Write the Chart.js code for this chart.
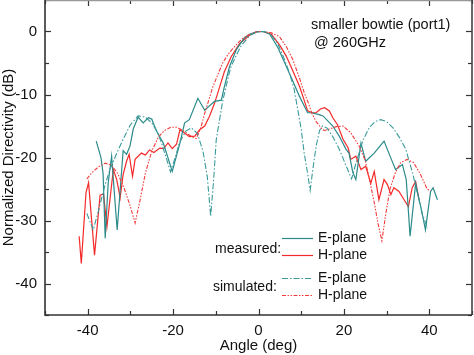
<!DOCTYPE html>
<html>
<head>
<meta charset="utf-8">
<script src="https://cdn.jsdelivr.net/npm/chart.js@4/dist/chart.umd.min.js"></script>
<style>
  html, body { margin: 0; padding: 0; background: #fff; }
  #c { display: block; }
</style>
</head>
<body>
<canvas id="c" width="474" height="355"></canvas>
<script>
// ---- data ----
const measEAngle = [-38.0,-36.9,-36.4,-35.9,-35.2,-34.4,-33.1,-31.7,-30.9,-30.1,-29.3,-28.2,-27.0,-25.8,-25.0,-23.9,-22.3,-20.2,-18.4,-17.3,-16.2,-14.2,-12.6,-11.5,-10.3,-8.7,-8.0,-6.8,-5.2,-3.3,-2.0,-0.5,1.0,2.6,4.5,6.5,8.0,9.6,11.5,12.4,14.2,15.1,17.4,18.9,20.5,21.2,22.1,22.8,24.0,25.1,27.1,29.4,31.0,32.1,33.7,34.6,35.5,36.8,37.6,38.0,39.1,40.3,40.9,41.9];
const measEdB    = [-17.4,-20.0,-22.5,-32.8,-24.0,-19.8,-31.5,-18.9,-19.5,-18.2,-15.4,-13.6,-14.5,-13.7,-13.9,-15.8,-17.7,-22.2,-17.7,-14.5,-14.0,-10.6,-12.5,-11.8,-11.1,-10.9,-8.8,-5.6,-2.9,-1.0,-0.4,-0.1,0.0,-0.4,-2.5,-5.5,-7.8,-10.3,-12.9,-12.9,-13.2,-13.4,-15.0,-16.6,-18.7,-19.3,-22.4,-23.5,-17.7,-20.6,-19.3,-17.4,-20.1,-21.9,-21.1,-23.5,-32.5,-24.1,-26.7,-27.8,-31.5,-25.4,-24.8,-26.7];

const measHAngle = [-42.0,-41.5,-40.4,-39.8,-38.4,-37.1,-36.3,-35.5,-34.0,-33.2,-32.4,-31.7,-30.9,-30.3,-29.5,-28.9,-28.2,-27.4,-26.5,-25.5,-24.5,-23.1,-22.2,-21.2,-20.2,-19.2,-18.4,-17.3,-16.2,-14.9,-13.8,-12.6,-11.5,-10.3,-9.1,-8.0,-6.4,-4.4,-2.1,-0.5,1.0,3.0,5.0,6.5,8.0,9.6,10.5,11.5,12.5,13.5,14.5,15.5,16.6,17.4,18.5,19.8,21.0,21.6,22.8,24.0,25.1,26.3,27.1,28.2,29.4,30.2,31.0,31.7,32.9,34.1,35.1,36.0,36.8,37.6];
const measHdB    = [-32.5,-36.8,-25.6,-24.0,-35.5,-26.0,-25.8,-31.0,-21.9,-23.5,-26.4,-22.7,-20.6,-19.5,-23.0,-20.3,-19.8,-19.3,-19.6,-18.8,-19.2,-18.5,-18.6,-17.7,-18.6,-17.9,-15.6,-16.1,-16.7,-16.6,-15.6,-15.0,-13.5,-11.4,-8.8,-6.4,-4.0,-1.9,-0.6,0.0,0.0,-0.4,-2.2,-3.9,-6.2,-8.7,-10.5,-12.6,-12.9,-12.9,-12.3,-12.1,-12.6,-13.7,-14.8,-17.1,-18.5,-20.3,-19.8,-21.9,-21.4,-24.1,-22.2,-26.7,-23.5,-24.3,-25.9,-24.8,-25.4,-26.7,-27.8,-24.8,-23.8,-26.7];

const simEAngle = [-40.2,-38.7,-37.5,-36.0,-34.8,-33.0,-31.7,-30.0,-28.2,-26.5,-25.0,-23.8,-22.7,-21.5,-20.6,-19.5,-18.5,-17.0,-15.7,-14.3,-13.0,-12.0,-11.2,-10.5,-9.9,-9.0,-8.4,-7.0,-6.4,-5.0,-4.0,-2.0,0.0,1.5,3.0,4.5,6.0,7.2,8.3,9.2,10.0,10.7,11.5,12.1,12.8,13.5,14.3,15.0,16.0,17.5,19.0,20.5,21.8,23.0,24.5,26.0,27.3,28.6,30.0,31.5,33.0,34.5,36.1,37.5,38.4,39.6];
const simEdB    = [-28.9,-31.5,-28.5,-24.5,-21.9,-19.0,-17.1,-14.8,-13.4,-13.6,-14.5,-15.8,-17.7,-20.3,-22.3,-20.0,-17.6,-15.8,-15.3,-16.2,-19.0,-23.0,-29.3,-23.5,-17.2,-13.5,-11.1,-7.0,-5.5,-3.5,-2.2,-0.6,0.0,0.0,-0.6,-1.9,-4.3,-6.5,-9.0,-12.4,-15.5,-19.3,-22.5,-25.2,-21.5,-18.2,-15.7,-15.0,-15.3,-16.8,-18.8,-21.3,-23.4,-20.5,-17.2,-15.2,-14.3,-14.0,-14.3,-15.3,-16.8,-18.7,-22.5,-26.5,-29.1,-31.2];

const simHAngle = [-40.2,-39.0,-37.5,-35.9,-34.5,-33.0,-31.5,-30.0,-28.9,-27.8,-26.5,-25.0,-23.5,-22.0,-20.5,-19.2,-18.0,-16.5,-15.3,-14.6,-13.6,-12.6,-11.6,-10.7,-9.5,-8.4,-7.2,-6.0,-4.8,-3.7,-2.5,-1.3,0.0,1.0,3.0,4.9,6.5,8.0,9.5,10.7,11.6,12.5,13.5,15.0,15.5,16.5,18.2,19.8,21.5,23.6,25.0,26.0,27.2,28.0,28.9,29.8,30.8,32.0,33.3,34.8,36.3,37.8,39.5,40.3];
const simHdB    = [-23.4,-22.4,-21.5,-20.9,-21.2,-22.5,-24.8,-27.8,-30.4,-27.0,-22.5,-19.0,-16.8,-15.7,-15.2,-15.2,-15.6,-16.3,-16.8,-17.0,-15.5,-13.0,-10.8,-8.8,-6.8,-5.0,-3.7,-2.7,-1.8,-1.1,-0.6,-0.3,0.0,0.0,-0.2,-0.8,-2.4,-4.4,-7.2,-9.7,-11.2,-13.0,-14.3,-15.6,-15.7,-15.5,-15.1,-15.0,-16.0,-18.2,-20.5,-23.5,-27.5,-30.5,-33.2,-29.0,-25.0,-22.5,-20.8,-20.3,-20.8,-22.5,-25.0,-25.3];

const xTickValues = [-40, -20, 0, 20, 40];
const yTickValues = [-40, -30, -20, -10, 0];
const xMinorValues = [-50, -40, -30, -20, -10, 0, 10, 20, 30, 40, 50];
const yMinorValues = [-45, -40, -35, -30, -25, -20, -15, -10, -5, 0, 5];

const seriesNames = ['measured E-plane', 'measured H-plane', 'simulated E-plane', 'simulated H-plane'];
const legendLabels = ['E-plane', 'H-plane', 'E-plane', 'H-plane'];
const groupLabels = ['measured:', 'simulated:'];
const noteLines = ['smaller bowtie (port1)', '@ 260GHz'];
const xTitle = 'Angle (deg)';
const yTitle = 'Normalized Directivity (dB)';

// ---- styling ----
const TEAL = '#2b8a8a';
const TEAL_SIM = '#3a9a9a';
const RED = '#f42a2a';
const RED_SIM = '#f23a3a';
const FONT = '"Liberation Sans", Arial, Helvetica, sans-serif';

function pts(a, v) { return a.map((x, i) => ({ x: x, y: v[i] })); }

const datasets = [
  { label: seriesNames[2], data: pts(simEAngle, simEdB), borderColor: TEAL_SIM, borderDash: [6, 2, 1.5, 2], borderWidth: 1.1 },
  { label: seriesNames[3], data: pts(simHAngle, simHdB), borderColor: RED_SIM, borderDash: [4, 1.5, 1.5, 1.5, 1.5, 1.5], borderWidth: 1.1 },
  { label: seriesNames[0], data: pts(measEAngle, measEdB), borderColor: TEAL, borderWidth: 1.2 },
  { label: seriesNames[1], data: pts(measHAngle, measHdB), borderColor: RED, borderWidth: 1.2 },
].map(d => Object.assign({ pointRadius: 0, tension: 0, fill: false }, d));

Chart.defaults.font.family = FONT;

const decor = {
  id: 'decor',
  afterDraw(chart) {
    const ctx = chart.ctx;
    const a = chart.chartArea;
    const xs = chart.scales.x, ys = chart.scales.y;
    ctx.save();
    // ticks (inward, all four sides)
    ctx.strokeStyle = '#333';
    ctx.lineWidth = 1.2;
    xMinorValues.forEach(v => {
      const px = Math.round(xs.getPixelForValue(v)) + 0.5;
      const len = v % 20 === 0 ? 6 : 4;
      ctx.beginPath(); ctx.moveTo(px, a.bottom); ctx.lineTo(px, a.bottom - len); ctx.stroke();
      ctx.beginPath(); ctx.moveTo(px, a.top); ctx.lineTo(px, a.top + len); ctx.stroke();
    });
    yMinorValues.forEach(v => {
      const py = Math.round(ys.getPixelForValue(v)) + 0.5;
      const len = v % 10 === 0 ? 6 : 4;
      ctx.beginPath(); ctx.moveTo(a.left, py); ctx.lineTo(a.left + len, py); ctx.stroke();
      ctx.beginPath(); ctx.moveTo(a.right, py); ctx.lineTo(a.right - len, py); ctx.stroke();
    });
    // frame
    ctx.lineWidth = 1.6;
    ctx.strokeStyle = '#999';
    ctx.beginPath(); ctx.moveTo(a.left, a.top + 0.5); ctx.lineTo(a.right, a.top + 0.5); ctx.stroke();
    ctx.strokeStyle = '#444';
    ctx.beginPath(); ctx.moveTo(a.right, a.top); ctx.lineTo(a.right, a.bottom); ctx.stroke();
    ctx.strokeStyle = '#333';
    ctx.beginPath(); ctx.moveTo(a.left, a.top); ctx.lineTo(a.left, a.bottom); ctx.lineTo(a.right, a.bottom); ctx.stroke();

    // legend
    const ds = chart.data.datasets;
    const order = [ds[2], ds[3], ds[0], ds[1]];
    const rowsY = [238, 255, 278, 295];
    ctx.font = '14px ' + FONT;
    ctx.fillStyle = '#111';
    ctx.textBaseline = 'middle';
    ctx.textAlign = 'left';
    order.forEach((d, i) => {
      ctx.strokeStyle = d.borderColor;
      ctx.lineWidth = d.borderWidth;
      ctx.setLineDash(d.borderDash || []);
      ctx.beginPath(); ctx.moveTo(282, rowsY[i] + 0.5); ctx.lineTo(313, rowsY[i] + 0.5); ctx.stroke();
      ctx.setLineDash([]);
      ctx.fillText(legendLabels[i], 318, rowsY[i]);
    });
    ctx.fillText(groupLabels[0], 215, 249);
    ctx.fillText(groupLabels[1], 213, 287);

    // annotation
    ctx.font = '14.5px ' + FONT;
    ctx.fillText(noteLines[0], 311, 25);
    ctx.fillText(noteLines[1], 314, 43);
    ctx.restore();
  }
};

new Chart(document.getElementById('c'), {
  type: 'line',
  data: { datasets: datasets },
  options: {
    responsive: false,
    animation: false,
    devicePixelRatio: 1,
    layout: { padding: { left: 0, right: 2, top: 0, bottom: 0 } },
    plugins: { legend: { display: false }, tooltip: { enabled: false } },
    scales: {
      x: {
        type: 'linear', min: -50, max: 50,
        afterFit: s => { s.height = 40; s.paddingLeft = 0; s.paddingRight = 0; },
        afterBuildTicks: s => { s.ticks = xTickValues.map(v => ({ value: v })); },
        grid: { display: false, drawTicks: false },
        border: { display: false },
        ticks: { padding: 7, color: '#111', font: { size: 15 }, maxRotation: 0, autoSkip: false },
        title: { display: true, text: xTitle, color: '#111', font: { size: 15 }, padding: { top: 0, bottom: 0 } }
      },
      y: {
        type: 'linear', min: -45, max: 5,
        afterFit: s => { s.width = 45; s.paddingTop = 0; s.paddingBottom = 0; },
        afterBuildTicks: s => { s.ticks = yTickValues.map(v => ({ value: v })); },
        grid: { display: false, drawTicks: false },
        border: { display: false },
        ticks: { padding: 8, color: '#111', font: { size: 15 }, autoSkip: false },
        title: { display: true, text: yTitle, color: '#111', font: { size: 15 }, padding: { top: 0, bottom: 0 } }
      }
    }
  },
  plugins: [decor]
});
</script>
</body>
</html>
